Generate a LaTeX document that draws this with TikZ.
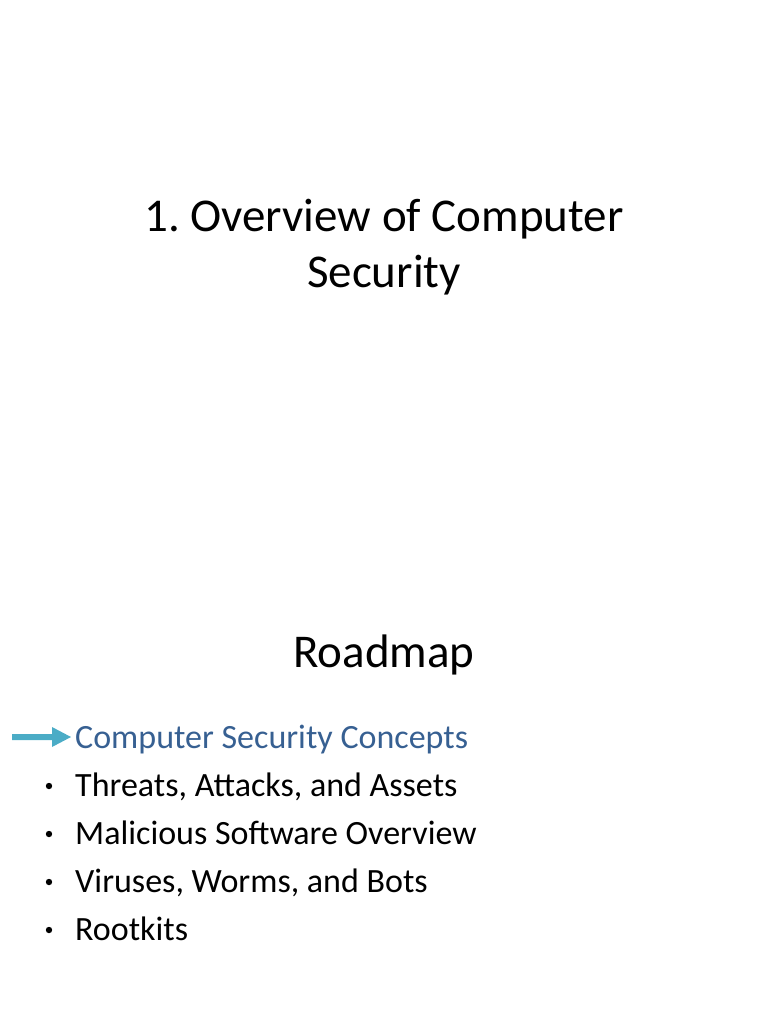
\documentclass[tikz,border=0pt]{standalone}
\usepackage{fontspec}
\setmainfont{Carlito}
\definecolor{itemblue}{RGB}{55,96,146}
\definecolor{arrowteal}{RGB}{75,172,198}
\begin{document}
\begin{tikzpicture}[x=1pt,y=-1pt,
  titletext/.style={font=\fontsize{47}{55}\selectfont,align=center,inner sep=0},
  itemtext/.style={font=\fontsize{34}{40}\selectfont,anchor=base west,inner sep=0}]
\useasboundingbox (0,0) rectangle (768,1024);
\node[titletext,anchor=base] (t1) at (384,232) {1.~Overview of Computer};
\node[titletext,anchor=base] (t2) at (384,287) {Security};
\node[titletext,anchor=base] (rm) at (384,667) {Roadmap};
\node[itemtext,text=itemblue] (i1) at (75,748) {Computer Security Concepts};
\node[itemtext] (i2) at (75,796) {Threats, Attacks, and Assets};
\node[itemtext] (i3) at (75,844) {Malicious Software Overview};
\node[itemtext] (i4) at (75,892) {Viruses, Worms, and Bots};
\node[itemtext] (i5) at (75,940) {Rootkits};
\foreach \n in {i2,i3,i4,i5}
  \fill ([xshift=-26pt,yshift=10pt]\n.base west) circle (3.2pt);
\fill[arrowteal] (12,734) -- (52,734) -- (52,727) -- (71,737) -- (52,747) -- (52,740) -- (12,740) -- cycle;
\end{tikzpicture}
\end{document}
